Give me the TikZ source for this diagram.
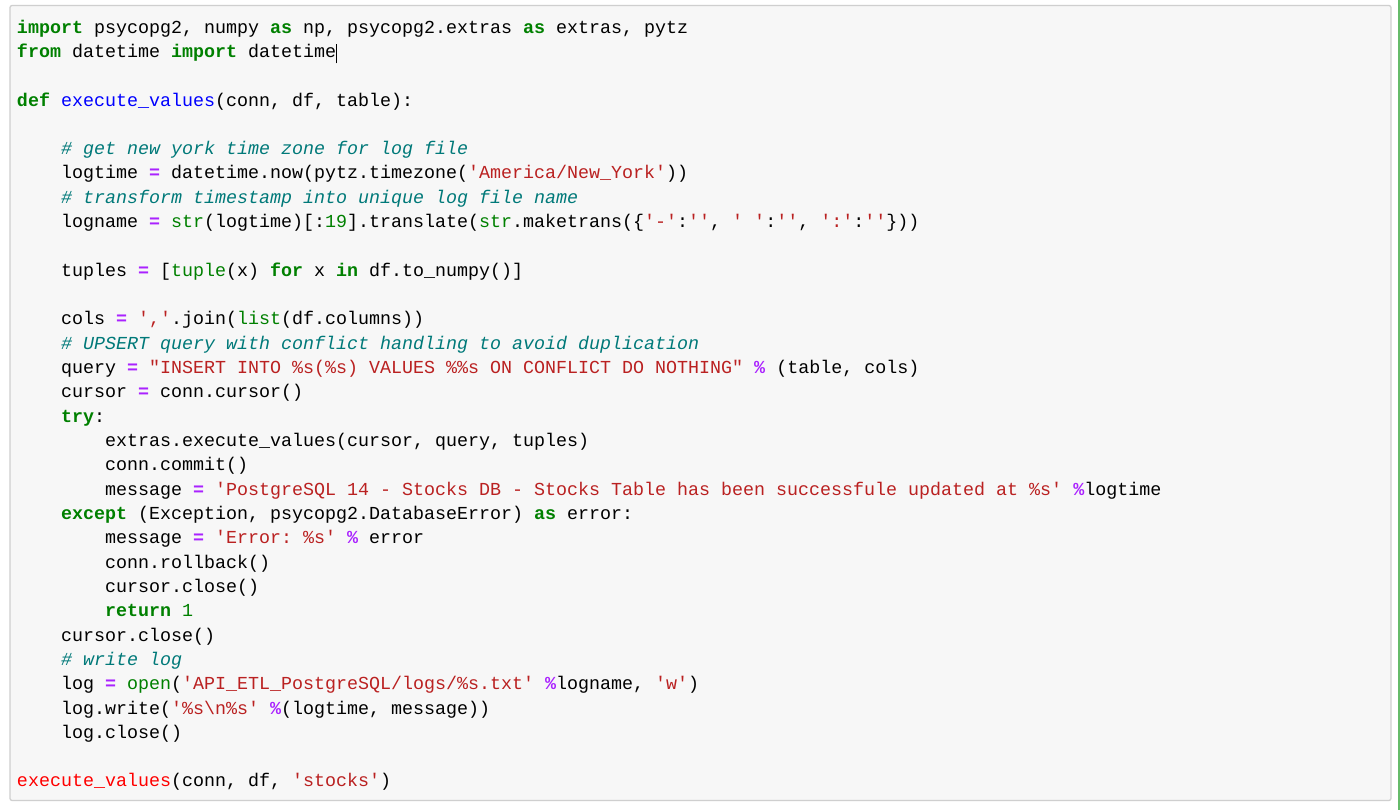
\documentclass[tikz,border=0pt]{standalone}
\usepackage{fontspec}
\setmonofont{Liberation Mono}
\usepackage{xcolor}
\usepackage{tikz}

\definecolor{kwgreen}{HTML}{008000}
\definecolor{fnblue}{HTML}{0000FF}
\definecolor{strred}{HTML}{BA2121}
\definecolor{cmteal}{HTML}{007979}
\definecolor{oppurple}{HTML}{AA22FF}
\definecolor{callred}{HTML}{FF0000}
\definecolor{cellbg}{HTML}{F7F7F7}
\definecolor{cellborder}{HTML}{CFCFCF}
\definecolor{editgreen}{HTML}{66BB6A}

\newcommand{\kw}[1]{\textcolor{kwgreen}{\bfseries #1}}
\newcommand{\fn}[1]{\textcolor{fnblue}{#1}}
\newcommand{\st}[1]{\textcolor{strred}{#1}}
\newcommand{\cm}[1]{\textcolor{cmteal}{\itshape #1}}
\newcommand{\op}[1]{\textcolor{oppurple}{\bfseries #1}}
\newcommand{\bi}[1]{\textcolor{kwgreen}{#1}}
\newcommand{\nm}[1]{\textcolor{kwgreen}{#1}}
\newcommand{\er}[1]{\textcolor{callred}{#1}}

\begin{document}
\begin{tikzpicture}[x=0.025cm, y=-0.025cm,
  code/.style={anchor=base west, inner sep=0pt, outer sep=0pt,
    font=\ttfamily\fontsize{13.04pt}{16pt}\selectfont\frenchspacing}]
  \useasboundingbox (0,0) rectangle (1400,810);

  % Celda
  \fill[white] (0,0) rectangle (1400,810);
  \draw[fill=cellbg, draw=cellborder, line width=0.9pt, rounded corners=1.5pt] (10,5.5) rectangle (1391,800.5);
  \fill[editgreen] (1398.3,0) rectangle (1400,810);

  % Codigo
  \node[code] (l1) at (17,33.0) {\kw{import} psycopg2, numpy \kw{as} np, psycopg2.extras \kw{as} extras, pytz};
  \node[code] (l2) at (17,57.3) {\kw{from} datetime \kw{import} datetime};
  \node[code] (l4) at (17,106.0) {\kw{def} \fn{execute\_values}(conn, df, table):};

  \node[code] (l6) at (61,154.6) {\cm{\# get new york time zone for log file}};
  \node[code] (l7) at (61,178.9) {logtime \op{=} datetime.now(pytz.timezone(\st{'America/New\_York'}))};
  \node[code] (l8) at (61,203.2) {\cm{\# transform timestamp into unique log file name}};
  \node[code] (l9) at (61,227.6) {logname \op{=} \bi{str}(logtime)[:\nm{19}].translate(\bi{str}.maketrans(\{\st{'-'}:\st{''}, \st{' '}:\st{''}, \st{':'}:\st{''}\}))};

  \node[code] (l11) at (61,276.2) {tuples \op{=} [\bi{tuple}(x) \kw{for} x \kw{in} df.to\_numpy()]};

  \node[code] (l13) at (61,324.8) {cols \op{=} \st{','}.join(\bi{list}(df.columns))};
  \node[code] (l14) at (61,349.2) {\cm{\# UPSERT query with conflict handling to avoid duplication}};
  \node[code] (l15) at (61,373.5) {query \op{=} \st{"INSERT INTO \%s(\%s) VALUES \%\%s ON CONFLICT DO NOTHING"} \op{\%} (table, cols)};
  \node[code] (l16) at (61,397.8) {cursor \op{=} conn.cursor()};
  \node[code] (l17) at (61,422.1) {\kw{try}:};
  \node[code] (l18) at (105,446.4) {extras.execute\_values(cursor, query, tuples)};
  \node[code] (l19) at (105,470.8) {conn.commit()};
  \node[code] (l20) at (105,495.1) {message \op{=} \st{'PostgreSQL 14 - Stocks DB - Stocks Table has been successfule updated at \%s'} \op{\%}logtime};
  \node[code] (l21) at (61,519.4) {\kw{except} (Exception, psycopg2.DatabaseError) \kw{as} error:};
  \node[code] (l22) at (105,543.7) {message \op{=} \st{'Error: \%s'} \op{\%} error};
  \node[code] (l23) at (105,568.0) {conn.rollback()};
  \node[code] (l24) at (105,592.4) {cursor.close()};
  \node[code] (l25) at (105,616.7) {\kw{return} \nm{1}};
  \node[code] (l26) at (61,641.0) {cursor.close()};
  \node[code] (l27) at (61,665.3) {\cm{\# write log}};
  \node[code] (l28) at (61,689.6) {log \op{=} \bi{open}(\st{'API\_ETL\_PostgreSQL/logs/\%s.txt'} \op{\%}logname, \st{'w'})};
  \node[code] (l29) at (61,714.0) {log.write(\st{'\%s\textbackslash n\%s'} \op{\%}(logtime, message))};
  \node[code] (l30) at (61,738.3) {log.close()};

  \node[code] (l32) at (17,786.9) {\er{execute\_values}(conn, df, \st{'stocks'})};

  % Cursor
  \draw[line width=0.8pt] (l2.base east) ++(0,6) -- ++(0,-19.5);

\end{tikzpicture}
\end{document}
